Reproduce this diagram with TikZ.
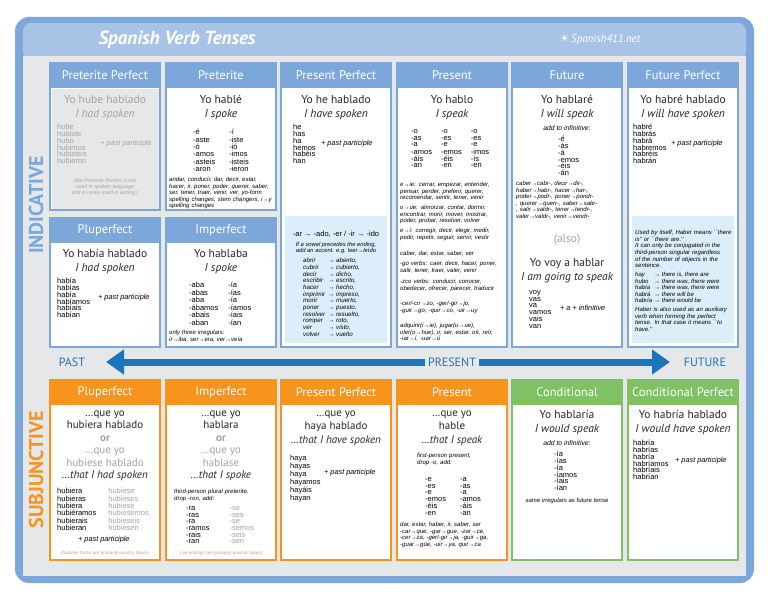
\documentclass[tikz,border=0pt]{standalone}
\usepackage{array}
\usepackage{fontspec}
\setmainfont{PT Sans}
\newfontfamily\sm{Liberation Sans}
\newfontfamily\djvfont{DejaVu Sans}
\usetikzlibrary{arrows.meta}
\definecolor{bl}{HTML}{7BA7DB}
\definecolor{bltitle}{HTML}{A8C3E6}
\definecolor{lb}{HTML}{DDEEFB}
\definecolor{or}{HTML}{F7941D}
\definecolor{gr}{HTML}{80C163}
\definecolor{bg}{HTML}{E6E7E8}
\definecolor{gy}{HTML}{A3A3A3}
\definecolor{ar}{HTML}{1B75BC}
\hyphenpenalty=10000
\renewcommand\arraystretch{0.95}
\tikzset{
 hdr/.style={text=white,font=\fontsize{12.5}{12.5}\selectfont},
 ex/.style={font=\fontsize{11.5}{14}\selectfont,align=center,anchor=north,text=black!85},
 lst/.style={font=\sm\fontsize{7.5}{6.8}\selectfont,align=left,anchor=north west,inner sep=0},
 note/.style={font=\sm\itshape\fontsize{6}{6.6}\selectfont,align=left,anchor=north west,inner sep=0,text width=103pt},
 pp/.style={font=\sm\itshape\fontsize{7.3}{7}\selectfont,anchor=west,inner sep=0},
}
\newcommand\vtpanel[6]{%
 \draw[#5,fill=white,line width=2] (#2,#3) rectangle (#2+110,#4);
 \fill[#5] (#2,#3) rectangle (#2+110,#3+25);
 \node[hdr] (#1) at (#2+55,#3+12.5) {#6};}
\begin{document}
\begin{tikzpicture}[x=1pt,y=-1pt]
\useasboundingbox (0,0) rectangle (768,594);
\fill[white] (0,0) rectangle (768,594);
\fill[bl,rounded corners=14] (15,17) rectangle (754,583);
\fill[bltitle,rounded corners=8] (23,23) rectangle (746,60);
\fill[bg] (23,56) rectangle (746,576);
\node[font=\bfseries\itshape\fontsize{19}{19}\selectfont,text=white,anchor=west] (title) at (95,40) {Spanish Verb Tenses};
\node[font=\itshape\fontsize{11}{11}\selectfont,text=white,anchor=west] (logo) at (556,40) {{\djvfont\upshape ☀}\,Spanish411.net};
\node[rotate=90,font=\bfseries\fontsize{20}{20}\selectfont,text=bl] (ind) at (36,205) {INDICATIVE};
\node[rotate=90,font=\bfseries\fontsize{20}{20}\selectfont,text=or] (sub) at (36,470) {SUBJUNCTIVE};

% ---------- indicative row 1 ----------
\vtpanel{pperf}{50}{63}{210}{bl}{Preterite Perfect}
\fill[bg] (51.5,89) rectangle (158.5,208.5);
\node[ex,text=gy] (pperfex) at (105,92) {Yo hube hablado\\\itshape I had spoken};
\node[lst,text=gy] (pperfl) at (57,124) {hube\\hubiste\\hubo\\hubimos\\hubisteis\\hubieron};
\node[pp,text=gy] (pperfp) at (100,144) {+ past participle};
\node[font=\sm\itshape\fontsize{5.2}{6.3}\selectfont,align=center,text=gy] (pperfn) at (105,187) {(the Preterite Perfect is not\\used in spoken language\\and is rarely used in writing.)};

\vtpanel{pret}{166}{63}{210}{bl}{Preterite}
\node[ex] (pretex) at (221,92) {Yo hablé\\\itshape I spoke};
\node[lst] (pretl) at (193,129) {\begin{tabular}{@{}l@{\hspace{14pt}}l@{}}-é&-í\\-aste&-iste\\-ó&-ió\\-amos&-imos\\-asteis&-isteis\\-aron&-ieron\end{tabular}};
\node[note] (pretn) at (169,177) {andar, conducir, dar, decir, estar, hacer, ir, poner, poder, querer, saber, ser, tener, traer, venir, ver, yo-form spelling changes, stem changers, i→y spelling changes};

\vtpanel{prpf}{281}{63}{347}{bl}{Present Perfect}
\node[ex] (prpfex) at (336,92) {Yo he hablado\\\itshape I have spoken};
\node[lst] (prpfl) at (293,124) {he\\has\\ha\\hemos\\habéis\\han};
\node[pp] (prpfp) at (321,144) {+ past participle};
\fill[lb] (285,216) rectangle (387,343);
\node[font=\sm\fontsize{7.5}{7.5}\selectfont] (prpfr) at (336,234) {-ar → -ado, -er / -ir → -ido};
\node[font=\sm\itshape\fontsize{5.8}{6.6}\selectfont,align=center] (prpfa) at (336,248) {If a vowel precedes the ending,\\add an accent. e.g. leer→leído};
\node[font=\sm\itshape\fontsize{6.2}{7}\selectfont,anchor=north west,inner sep=0] (prpft) at (303,258) {\begin{tabular}{@{}l@{\hspace{3pt}}l@{}}abrir&→ abierto,\\cubrir&→ cubierto,\\decir&→ dicho,\\escribir&→ escrito,\\hacer&→ hecho,\\imprimir&→ impreso,\\morir&→ muerto,\\poner&→ puesto,\\resolver&→ resuelto,\\romper&→ roto,\\ver&→ visto,\\volver&→ vuelto\end{tabular}};

\vtpanel{pres}{397}{63}{347}{bl}{Present}
\node[ex] (presex) at (452,92) {Yo hablo\\\itshape I speak};
\node[lst] (presl) at (411,129) {\begin{tabular}{@{}l@{\hspace{9pt}}l@{\hspace{9pt}}l@{}}-o&-o&-o\\-as&-es&-es\\-a&-e&-e\\-amos&-emos&-imos\\-áis&-éis&-ís\\-an&-en&-en\end{tabular}};
\node[note] (pres1) at (400,182) {e→ie: cerrar, empezar, entender, pensar, perder, preferir, querer, recomendar, sentir, tener, venir};
\node[note] (pres2) at (400,205) {o→ue: almorzar, contar, dormir, encontrar, morir, mover, mostrar, poder, probar, resolver, volver};
\node[note] (pres3) at (400,228) {e→i: corregir, decir, elegir, medir, pedir, repetir, seguir, servir, vestir};
\node[note] (pres4) at (400,251) {caber, dar, estar, saber, ver};
\node[note] (pres5) at (400,261) {-go verbs: caer, decir, hacer, poner, salir, tener, traer, valer, venir};
\node[note] (pres6) at (400,279) {-zco verbs: conducir, conocer, obedecer, ofrecer, parecer, traducir};
\node[note] (pres7) at (400,301) {-cer/-cir→zo, -ger/-gir→jo,\\-guir→go, -quir→co, -uir→uy};
\node[note] (pres8) at (400,323) {adquirir(i→ie), jugar(u→ue), oler(o→hue), ir, ser, estar, oír, reír, -iar→í, -uar→ú};

\vtpanel{fut}{512}{63}{347}{bl}{Future}
\node[ex] (futex) at (567,92) {Yo hablaré\\\itshape I will speak};
\node[font=\sm\itshape\fontsize{6.8}{6.8}\selectfont] (futa) at (567,128) {add to infinitive:};
\node[lst] (futl) at (558,136) {-é\\-ás\\-á\\-emos\\-éis\\-án};
\node[note] (futn) at (516,181) {caber→cabr-, decir→dir-, haber→habr-, hacer→har-, poder→podr-, poner→pondr-, querer→querr-, saber→sabr-, salir→saldr-, tener→tendr-, valer→valdr-, venir→vendr-};
\node[ex,text=gy] (futal) at (567,231) {(also)};
\node[ex] (futv) at (567,255) {Yo voy a hablar\\\itshape I am going to speak};
\node[lst] (futvl) at (529,290) {voy\\vas\\va\\vamos\\vais\\van};
\node[pp] (futvp) at (560,308) {+ a + infinitive};

\vtpanel{fpf}{628}{63}{347}{bl}{Future Perfect}
\node[ex] (fpfex) at (683,92) {Yo habré hablado\\\itshape I will have spoken};
\node[lst] (fpfl) at (633,124) {habré\\habrás\\habrá\\habremos\\habréis\\habrán};
\node[pp] (fpfp) at (671,144) {+ past participle};
\fill[lb] (632,216) rectangle (734,343);
\node[note,text width=98pt] (fpfn) at (635,230) {Used by itself, Haber means ``there is'' or ``there are.''\\It can only be conjugated in the third-person singular regardless of the number of objects in the sentence.};
\node[font=\sm\itshape\fontsize{6}{6.8}\selectfont,anchor=north west,inner sep=0] (fpft) at (635,272) {\begin{tabular}{@{}l@{\hspace{2pt}}l@{}}hay&→ there is, there are\\hubo&→ there was, there were\\había&→ there was, there were\\habrá&→ there will be\\habría&→ there would be\end{tabular}};
\node[note,text width=98pt] (fpfn2) at (635,307) {Haber is also used as an auxiliary verb when forming the perfect tense. In that case it means ``to have.''};

% ---------- indicative row 2 ----------
\vtpanel{plu}{50}{218}{347}{bl}{Pluperfect}
\node[ex] (pluex) at (105,246) {Yo había hablado\\\itshape I had spoken};
\node[lst] (plul) at (57,278) {había\\habías\\había\\habíamos\\habíais\\habían};
\node[pp] (plup) at (98,298) {+ past participle};

\vtpanel{imp}{166}{218}{347}{bl}{Imperfect}
\node[ex] (impex) at (221,246) {Yo hablaba\\\itshape I spoke};
\node[lst] (impl) at (189,282) {\begin{tabular}{@{}l@{\hspace{10pt}}l@{}}-aba&-ía\\-abas&-ías\\-aba&-ía\\-ábamos&-íamos\\-abais&-íais\\-aban&-ían\end{tabular}};
\node[note] (impn) at (169,330) {only three irregulars:\\ir→iba, ser→era, ver→veía};

% ---------- arrow ----------
\coordinate (al) at (106,362);
\coordinate (arr) at (670,362);
\draw[ar,line width=7,{Triangle[length=18,width=24]}-{Triangle[length=18,width=24]}] (al) -- (arr);
\node[text=ar,font=\fontsize{12}{12}\selectfont] (past) at (72,362) {PAST};
\node[text=ar,font=\fontsize{12}{12}\selectfont,fill=bg] (now) at (452,362) {PRESENT};
\node[text=ar,font=\fontsize{12}{12}\selectfont] (futr) at (705,362) {FUTURE};

% ---------- subjunctive ----------
\vtpanel{splu}{50}{380}{560}{or}{Pluperfect}
\node[ex,font=\fontsize{11}{12.5}\selectfont] (spluex) at (105,407) {…que yo\\hubiera hablado\\{\color{gy}\bfseries or}\\{\color{gy}…que yo}\\{\color{gy}hubiese hablado}\\\itshape …that I had spoken};
\node[lst] (splul) at (57,488) {\begin{tabular}{@{}l@{\hspace{12pt}}>{\color{gy}}l@{}}hubiera&hubiese\\hubieras&hubieses\\hubiera&hubiese\\hubiéramos&hubiésemos\\hubierais&hubieseis\\hubieran&hubiesen\end{tabular}};
\node[pp] (splup) at (78,540) {+ past participle};
\node[font=\sm\itshape\fontsize{4.6}{5}\selectfont,text=gy] (splun) at (105,553) {(hubiese forms are primarily used in Spain)};

\vtpanel{simp}{166}{380}{560}{or}{Imperfect}
\node[ex,font=\fontsize{11}{12.5}\selectfont] (simpex) at (221,407) {…que yo\\hablara\\{\color{gy}\bfseries or}\\{\color{gy}…que yo}\\{\color{gy}hablase}\\\itshape …that I spoke};
\node[note] (simpn) at (174,489) {third-person plural preterite,\\drop -ron, add:};
\node[lst] (simpl) at (186,506) {\begin{tabular}{@{}l@{\hspace{20pt}}>{\color{gy}}l@{}}-ra&-se\\-ras&-ses\\-ra&-se\\-ramos&-semos\\-rais&-seis\\-ran&-sen\end{tabular}};
\node[font=\sm\itshape\fontsize{4.6}{5}\selectfont,text=gy] (simpnn) at (221,553) {(-se endings are primarily used in Spain)};

\vtpanel{sppf}{281}{380}{560}{or}{Present Perfect}
\node[ex,font=\fontsize{11}{13.5}\selectfont] (sppfex) at (336,407) {…que yo\\haya hablado\\\itshape …that I have spoken};
\node[lst] (sppfl) at (290,455) {haya\\hayas\\haya\\hayamos\\hayáis\\hayan};
\node[pp] (sppfp) at (324,473) {+ past participle};

\vtpanel{spres}{397}{380}{560}{or}{Present}
\node[ex,font=\fontsize{11}{13.5}\selectfont] (spresex) at (452,407) {…que yo\\hable\\\itshape …that I speak};
\node[note] (spresn) at (417,453) {first-person present,\\drop -o, add:};
\node[lst] (spresl) at (425,477) {\begin{tabular}{@{}l@{\hspace{14pt}}l@{}}-e&-a\\-es&-as\\-e&-a\\-emos&-amos\\-éis&-áis\\-en&-an\end{tabular}};
\node[note] (spresi) at (400,522) {dar, estar, haber, ir, saber, ser\\-car→que, -gar→gue, -zar→ce,\\-cer→za, -ger/-gir→ja, -guir→ga,\\-guar→güe, -uir→ya, quir→ca};

\vtpanel{cond}{512}{380}{560}{gr}{Conditional}
\node[ex] (condex) at (567,407) {Yo hablaría\\\itshape I would speak};
\node[font=\sm\itshape\fontsize{6.8}{6.8}\selectfont] (conda) at (567,443) {add to infinitive:};
\node[lst] (condl) at (554,451) {-ía\\-ías\\-ía\\-íamos\\-íais\\-ían};
\node[font=\sm\itshape\fontsize{6}{6}\selectfont] (condn) at (567,501) {same irregulars as future tense};

\vtpanel{cpf}{628}{380}{560}{gr}{Conditional Perfect}
\node[ex] (cpfex) at (683,407) {Yo habría hablado\\\itshape I would have spoken};
\node[lst] (cpfl) at (633,440) {habría\\habrías\\habría\\habríamos\\habríais\\habrían};
\node[pp] (cpfp) at (675,461) {+ past participle};
\end{tikzpicture}
\end{document}
